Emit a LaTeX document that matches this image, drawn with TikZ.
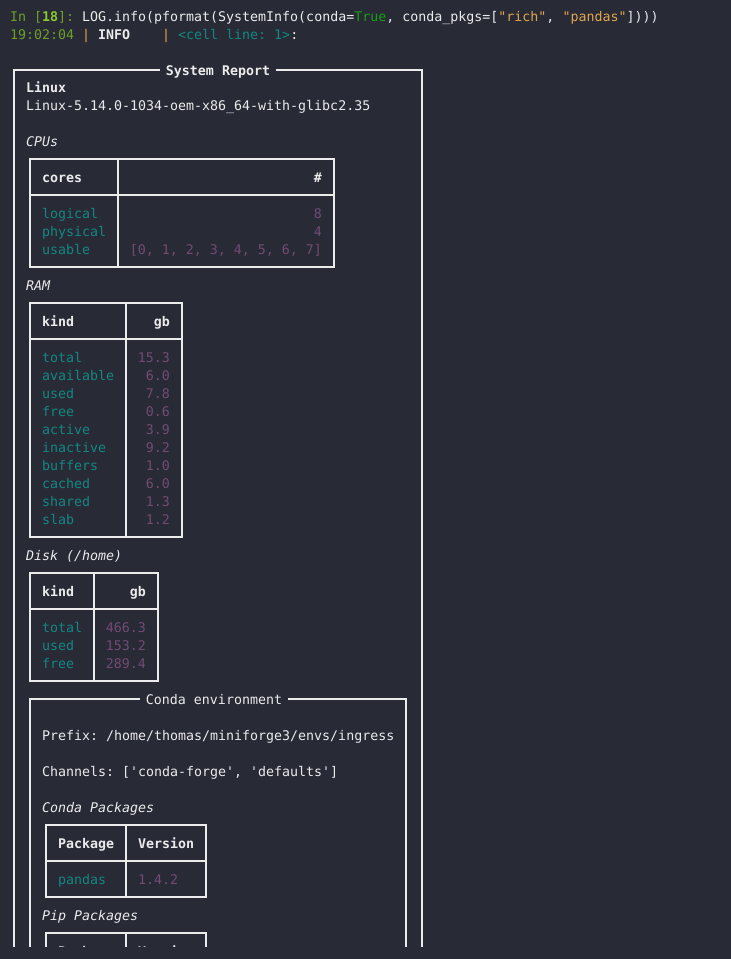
\documentclass[tikz,border=0pt]{standalone}
\usepackage{fontspec}
\setmonofont{DejaVu Sans Mono}
\definecolor{bg}{RGB}{40,42,54}
\definecolor{fg}{RGB}{235,235,235}
\definecolor{pgreen}{RGB}{110,160,40}
\definecolor{bgreen}{RGB}{140,200,50}
\definecolor{tgreen}{RGB}{20,160,20}
\definecolor{teal}{RGB}{20,135,130}
\definecolor{purp}{RGB}{115,75,115}
\definecolor{orng}{RGB}{225,165,80}
\begin{document}
\begin{tikzpicture}[x=1pt,y=-1pt,
  every node/.style={inner sep=0pt,outer sep=0pt,font=\ttfamily\fontsize{13.3}{18}\selectfont,text=fg},
  tx/.style={anchor=base west,yshift=-1pt},
  txr/.style={anchor=base east,yshift=-1pt},
  ln/.style={draw=fg,line width=1.2pt},
  ttl/.style={fill=bg,inner xsep=6pt,inner ysep=2pt,anchor=base,yshift=-1pt}]
\useasboundingbox (0,0) rectangle (731,959);
\fill[bg] (0,0) rectangle (731,959);
% prompt lines
\node[tx] (l1) at (10,20) {\textcolor{pgreen}{In [}\textcolor{bgreen}{\bfseries 18}\textcolor{pgreen}{]:} LOG.info(pformat(SystemInfo(conda=\textcolor{tgreen}{True}, conda\_pkgs=[\textcolor{orng}{"rich"}, \textcolor{orng}{"pandas"}])))};
\node[tx] (l2) at (10,38) {\textcolor{pgreen}{19:02:04} \textcolor{orng}{|} \textbf{INFO}\ \ \ \ \textcolor{orng}{|} \textcolor{teal}{<cell line: 1>}:};
\begin{scope}
\clip (0,0) rectangle (731,946);
% outer box
\draw[ln] (14,70) rectangle (422,960);
\node[ttl,font=\ttfamily\bfseries\fontsize{13.3}{18}\selectfont] (t1) at (218,74) {System Report};
\node[tx] (lin) at (26,91) {\textbf{Linux}};
\node[tx] (lin2) at (26,109) {Linux-5.14.0-1034-oem-x86\_64-with-glibc2.35};
\node[tx] (cpu) at (26,145) {\itshape CPUs};
% CPU table
\draw[ln] (30,159) rectangle (334,267);
\draw[ln] (30,195) -- (334,195);
\draw[ln] (118,159) -- (118,267);
\node[tx] (ch1) at (42,181) {\textbf{cores}};
\node[txr] (ch2) at (322,181) {\textbf{\#}};
\node[tx,text=teal] (c1) at (42,217) {logical};
\node[tx,text=teal] (c2) at (42,235) {physical};
\node[tx,text=teal] (c3) at (42,253) {usable};
\node[txr,text=purp] (v1) at (322,217) {8};
\node[txr,text=purp] (v2) at (322,235) {4};
\node[txr,text=purp] (v3) at (322,253) {[0, 1, 2, 3, 4, 5, 6, 7]};
\node[tx] (ram) at (26,289) {\itshape RAM};
% RAM table
\draw[ln] (30,303) rectangle (182,537);
\draw[ln] (30,339) -- (182,339);
\draw[ln] (126,303) -- (126,537);
\node[tx] (rh1) at (42,325) {\textbf{kind}};
\node[txr] (rh2) at (170,325) {\textbf{gb}};
\foreach \k/\v [count=\i from 0] in {total/15.3,available/6.0,used/7.8,free/0.6,active/3.9,inactive/9.2,buffers/1.0,cached/6.0,shared/1.3,slab/1.2}{
  \node[tx,text=teal] (rk\i) at (42,361+18*\i) {\k};
  \node[txr,text=purp] (rv\i) at (170,361+18*\i) {\v};
}
\node[tx] (disk) at (26,559) {\itshape Disk (/home)};
% Disk table
\draw[ln] (30,573) rectangle (158,681);
\draw[ln] (30,609) -- (158,609);
\draw[ln] (94,573) -- (94,681);
\node[tx] (dh1) at (42,595) {\textbf{kind}};
\node[txr] (dh2) at (146,595) {\textbf{gb}};
\foreach \k/\v [count=\i from 0] in {total/466.3,used/153.2,free/289.4}{
  \node[tx,text=teal] (dk\i) at (42,631+18*\i) {\k};
  \node[txr,text=purp] (dv\i) at (146,631+18*\i) {\v};
}
% Conda box
\draw[ln] (30,699) rectangle (406,960);
\node[ttl] (t2) at (214,703) {Conda environment};
\node[tx] (pre) at (42,739) {Prefix: /home/thomas/miniforge3/envs/ingress};
\node[tx] (chn) at (42,775) {Channels: ['conda-forge', 'defaults']};
\node[tx] (cpk) at (42,811) {\itshape Conda Packages};
\draw[ln] (46,825) rectangle (206,897);
\draw[ln] (46,861) -- (206,861);
\draw[ln] (126,825) -- (126,897);
\node[tx] (ph1) at (58,847) {\textbf{Package}};
\node[tx] (ph2) at (138,847) {\textbf{Version}};
\node[tx,text=teal] (pk) at (58,883) {pandas};
\node[tx,text=purp] (pv) at (138,883) {1.4.2};
\node[tx] (ppk) at (42,919) {\itshape Pip Packages};
\draw[ln] (46,933) rectangle (206,1000);
\draw[ln] (126,933) -- (126,1000);
\node[tx] (qh1) at (58,955) {\textbf{Package}};
\node[tx] (qh2) at (138,955) {\textbf{Version}};
\end{scope}
\end{tikzpicture}
\end{document}
